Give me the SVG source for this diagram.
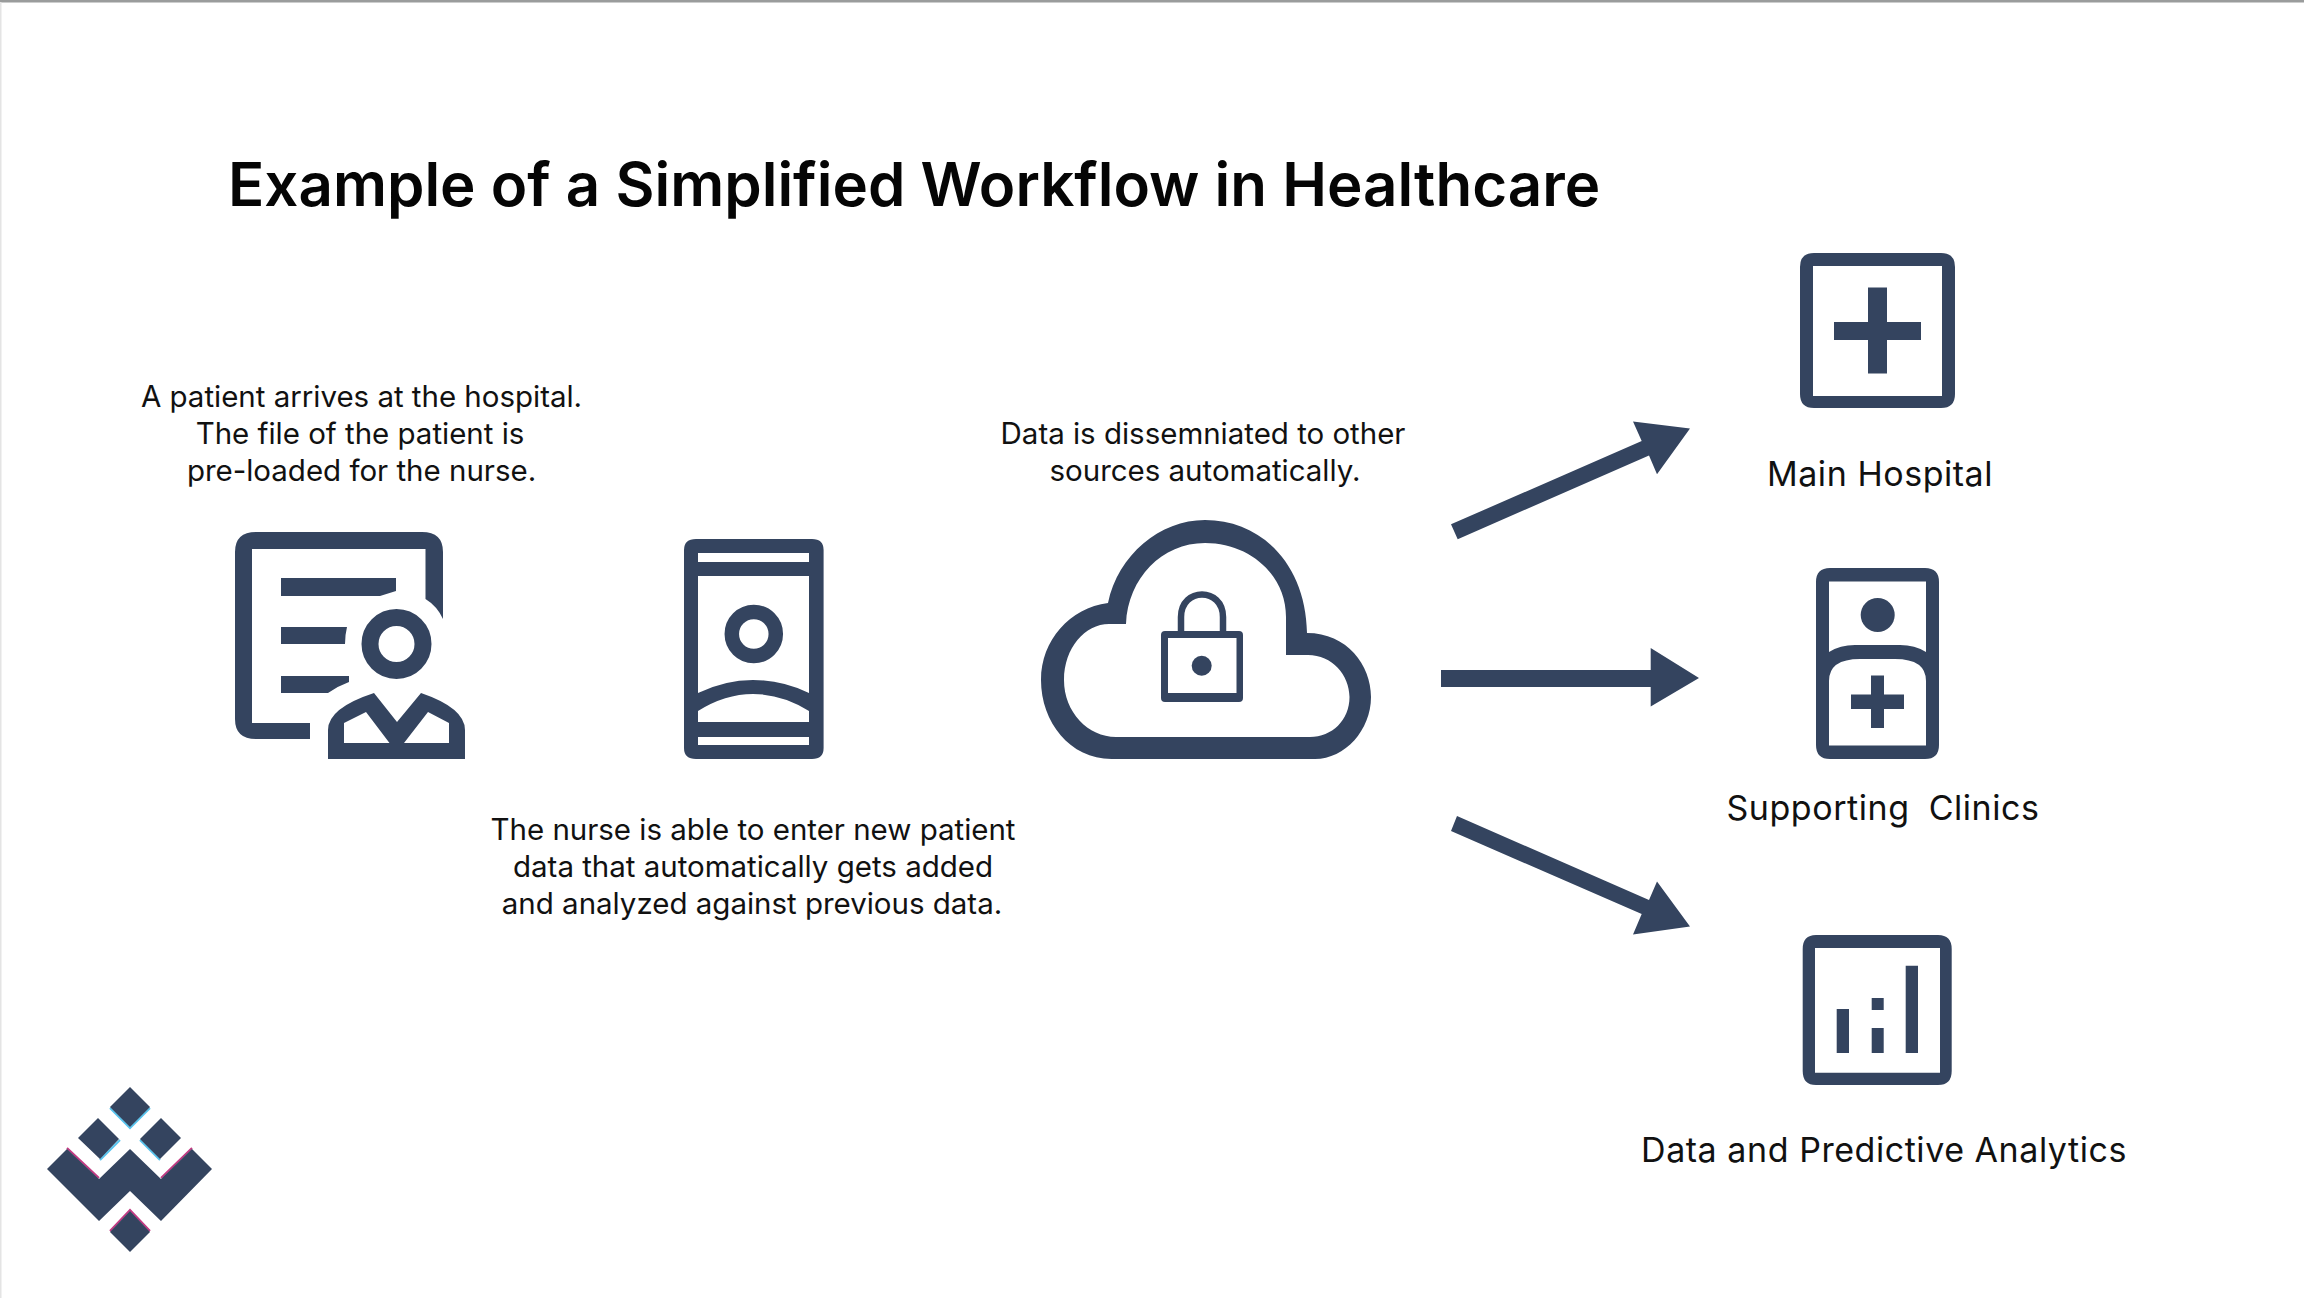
<svg xmlns="http://www.w3.org/2000/svg" width="2304" height="1298" viewBox="0 0 2304 1298">
<style>
.i{fill:#34445f}
.s{fill:none;stroke:#34445f}
.c{fill:none;stroke:#58c4ee;stroke-width:2}
.m{fill:none;stroke:#c23a83;stroke-width:2}
text{font-family:Inter,"Noto Sans","Liberation Sans",sans-serif;fill:#111;text-anchor:middle}
.b{font-size:29.500px;letter-spacing:-.02px}
.l{font-size:34px;letter-spacing:.55px}
.t{font-size:60px;font-weight:600;text-anchor:start;fill:#050505;letter-spacing:.02px}
</style>
<rect width="2304" height="1298" fill="#fff"/>
<rect width="2304" height="2.500" fill="#9a9c9c"/>
<rect y="2" width="1.500" height="1296" fill="#e4e4e4"/>
<g id="title"><text class="t" x="228" y="206">Example of a Simplified Workflow in Healthcare</text></g>
<g id="patient-file">
<path class="i" fill-rule="evenodd" d="M256 532H422Q443 532 443 552V619Q437 606 425.500 599V549H252V723H310V739H256Q235 739 235 719V552Q235 532 256 532Z"/>
<path class="i" d="M281 578H396V591L380 596H281ZM281 627H347Q345 635 345 644H281ZM281 676H349V682Q338 686 328 693H281Z"/>
<circle class="s" cx="396.500" cy="644" r="26.500" stroke-width="17"/>
<path class="i" fill-rule="evenodd" d="M374 693L397 722L421 693Q465 708 465 730V759H328V730Q328 708 374 693ZM366 712L344 723V743H389.500ZM428 712L404 743H449V723Z"/>
<text class="b" x="361.500" y="407">A patient arrives at the hospital.</text>
<text class="b" x="360" y="444">The file of the patient is</text>
<text class="b" x="361.500" y="481">pre-loaded for the nurse.</text>
</g>
<g id="nurse-phone">
<path class="i" fill-rule="evenodd" d="M696 539H812Q823.600 539 823.600 550V748Q823.600 759 812 759H696Q684 759 684 748V550Q684 539 696 539ZM698 553V562H809V553ZM698 576V693Q725 680 753 680Q782 680 809 693V576ZM698 711V722H809V711Q782 694 753 694Q725 694 698 711ZM698 737V745H809V737Z"/>
<circle class="s" cx="753.800" cy="634" r="22" stroke-width="14.500"/>
<text class="b" x="753" y="840">The nurse is able to enter new patient</text>
<text class="b" x="753" y="877">data that automatically gets added</text>
<text class="b" x="752" y="914">and analyzed against previous data.</text>
</g>
<g id="cloud">
<path class="i" fill-rule="evenodd" d="M1108 603C1118 555 1160 520 1205 520C1262 520 1306 565 1307 633C1347 633 1371 665 1371 697C1371 730 1345 759 1315 759H1111.500C1070 759 1041 722 1041 680C1041 640 1070 608 1108 603ZM1126 624H1109C1085 624 1064 648 1064 680C1064 712 1088 737 1116 737H1310C1332 737 1349.500 720 1349.500 697C1349.500 675 1332 655 1308 655H1286V617C1286 575 1250 543 1205 543C1162 543 1128 578 1126 624Z"/>
<path class="i" fill-rule="evenodd" d="M1165 631H1239Q1243 631 1243 635V698Q1243 702 1239 702H1165Q1161 702 1161 698V635Q1161 631 1165 631ZM1168 638V693H1236.500V638Z"/>
<path class="s" stroke-width="6.500" d="M1181 633V617C1181 587 1223 587 1223 617V633"/>
<circle class="i" cx="1201.700" cy="665.700" r="10"/>
<text class="b" x="1203" y="444">Data is dissemniated to other</text>
<text class="b" x="1205" y="481">sources automatically.</text>
</g>
<g id="connectors">
<path class="i" d="M1451 524.300L1641.700 441L1633 421.400L1690 428.600L1657 474.300L1649 455.400L1457.700 539.300Z"/>
<path class="i" d="M1441 670H1650.700V648L1699 678L1650.700 706.400V687H1441Z"/>
<path class="i" d="M1457 816L1649 900L1657 881.400L1690 926.400L1633 934.600L1641.700 914L1451 831Z"/>
</g>
<g id="main-hospital">
<path class="i" fill-rule="evenodd" d="M1814 253H1941Q1955 253 1955 267V394Q1955 408 1941 408H1814Q1800 408 1800 394V267Q1800 253 1814 253ZM1813 266V396H1942V266Z"/>
<path class="i" d="M1868 287.500H1887V322H1921V340H1887V373.600H1868V340H1834V322H1868Z"/>
<text class="l" x="1880" y="486">Main Hospital</text>
</g>
<g id="supporting-clinics">
<path class="i" fill-rule="evenodd" d="M1830 568H1925Q1939 568 1939 582V745Q1939 759 1925 759H1830Q1816 759 1816 745V582Q1816 568 1830 568ZM1829 581.600V652Q1840 645 1855 645H1900Q1915 645 1926 652V581.600ZM1829 681V745.500H1926V681Q1926 659 1895 659H1860Q1829 659 1829 681Z"/>
<circle class="i" cx="1877.700" cy="615" r="17"/>
<path class="i" d="M1871 675.600H1884V694.500H1904V709H1884V728H1871V709H1851V694.500H1871Z"/>
<text class="l" x="1883" y="820" style="word-spacing:9px">Supporting Clinics</text>
</g>
<g id="analytics">
<path class="i" fill-rule="evenodd" d="M1816 935H1938Q1951.700 935 1951.700 949V1071Q1951.700 1085 1938 1085H1816Q1802.700 1085 1802.700 1071V949Q1802.700 935 1816 935ZM1815 948V1072.700H1940V948Z"/>
<path class="i" d="M1836.700 1009H1849V1053H1836.700ZM1871.700 998H1883.700V1010H1871.700ZM1871.700 1028H1883.700V1053H1871.700ZM1905.700 965.700H1918V1053H1905.700Z"/>
<text class="l" x="1884" y="1162">Data and Predictive Analytics</text>
</g>
<g id="logo">
<path class="c" d="M110 1108L130 1128L150 1108M100 1160L120 1140M140 1140L160 1160"/>
<path class="m" d="M67 1148L99 1178M161 1178L192 1148M110 1231L130 1210L150 1231"/>
<path class="i" d="M130 1087L150 1107L130 1127L110 1107ZM98 1118L119 1139L100 1159L78 1138ZM161 1118L181 1138L160 1159L140 1139ZM67 1149L99 1179L130 1149L161 1179L192 1149L212 1169L161 1221L130 1191L99 1221L47 1169ZM130 1211L150 1232L130 1252L110 1232Z"/>
</g>
</svg>
